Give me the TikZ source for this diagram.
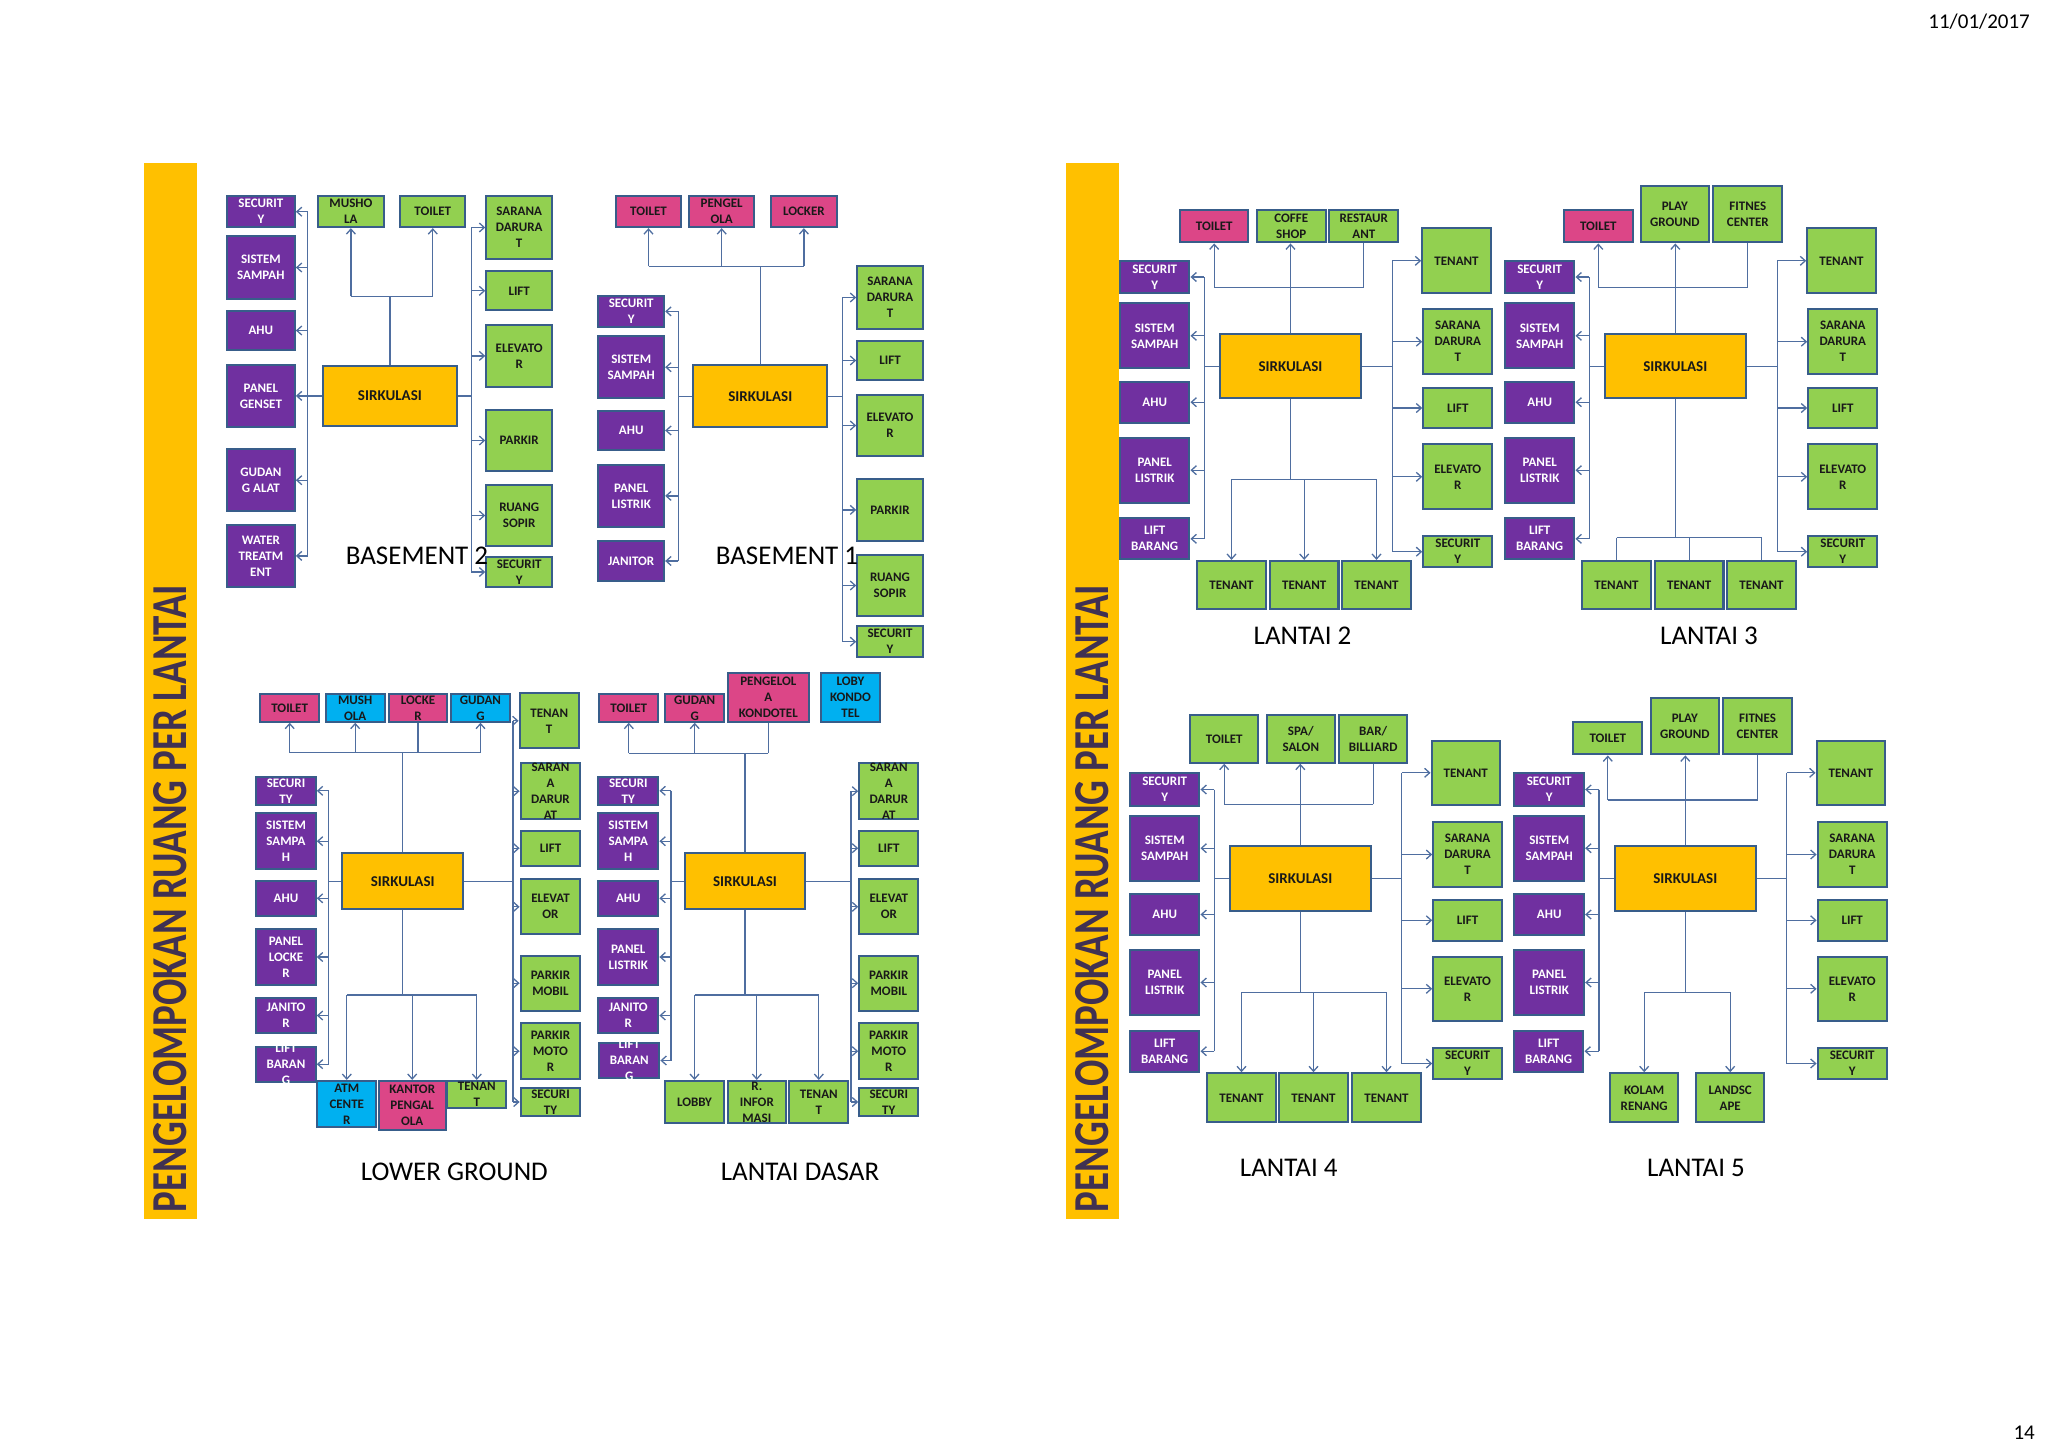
\documentclass[tikz,border=0pt]{standalone}
\usepackage{graphicx}
\usepackage{fontspec}
\setmainfont{Carlito}
\usetikzlibrary{calc, positioning, arrows.meta}
\definecolor{boxpurple}{RGB}{112,48,160}
\definecolor{boxgreen}{RGB}{146,208,80}
\definecolor{boxpink}{RGB}{220,70,135}
\definecolor{boxcyan}{RGB}{0,176,240}
\definecolor{boxyellow}{RGB}{255,192,0}
\definecolor{boxedge}{RGB}{56,93,138}
\definecolor{linkblue}{RGB}{79,110,160}
\definecolor{titleink}{RGB}{64,49,82}

\tikzset{
  room/.style={draw=boxedge, line width=2.2pt, inner sep=0pt},
  pbox/.style={room, fill=boxpurple},
  gbox/.style={room, fill=boxgreen},
  kbox/.style={room, fill=boxpink},
  cbox/.style={room, fill=boxcyan},
  ybox/.style={room, fill=boxyellow},
  rtext/.style={align=center, inner sep=0pt, font=\fontsize{13}{16}\selectfont\bfseries},
  pboxtxt/.style={text=white},
  gboxtxt/.style={text=black!90},
  kboxtxt/.style={text=black!90},
  cboxtxt/.style={text=black!90},
  yboxtxt/.style={text=black!90, font=\fontsize{15}{18}\selectfont\bfseries},
  link/.style={draw=linkblue, line width=1.3pt},
  floor/.style={font=\fontsize{27}{32}\selectfont, anchor=base, inner sep=0pt},
}

% box with fixed size, text laid over it
\newcommand{\roombox}[7]{%
  \node[#2, minimum width=#5pt, minimum height=#6pt] (#1) at (#3,#4) {};
  \node[rtext, #2txt] (#1t) at (#1.center) {#7};}

\begin{document}
\begin{tikzpicture}[x=1pt, y=-1pt, >={Straight Barb[length=5pt,width=9pt]}]
\useasboundingbox (0,0) rectangle (2048,1448);

% side bars
\fill[boxyellow] (143.7,163.3) rectangle (197.2,1218.6);
\fill[boxyellow] (1065.8,163.3) rectangle (1119.4,1218.6);
\node[rotate=90, text=titleink, inner sep=0pt] (ttlL) at (170.5,898.5)
  {\resizebox{627pt}{33pt}{\bfseries PENGELOMPOKAN RUANG PER LANTAI}};
\node[rotate=90, text=titleink, inner sep=0pt] (ttlR) at (1092.3,898.5)
  {\resizebox{627pt}{33pt}{\bfseries PENGELOMPOKAN RUANG PER LANTAI}};
\node[anchor=base east, inner sep=0pt, font=\fontsize{21}{25}\selectfont] (date) at (2030,28) {11/01/2017};
\node[anchor=base east, inner sep=0pt, font=\fontsize{21}{25}\selectfont] (pgno) at (2035,1439) {14};

% ---------------- BASEMENT 2
\roombox{b2sec}{pbox}{260.9}{211.7}{67.7}{30.7}{SECURIT\\Y}
\roombox{b2sis}{pbox}{260.9}{267.5}{67.7}{62.4}{SISTEM\\SAMPAH}
\roombox{b2ahu}{pbox}{260.9}{330.5}{67.7}{39.6}{AHU}
\roombox{b2pan}{pbox}{260.9}{395.9}{67.7}{62.3}{PANEL\\GENSET}
\roombox{b2gud}{pbox}{260.9}{480.2}{67.7}{62.3}{GUDAN\\G ALAT}
\roombox{b2wat}{pbox}{260.9}{555.9}{67.7}{62.3}{WATER\\TREATM\\ENT}
\roombox{b2sirk}{ybox}{389.9}{396}{134.3}{60.6}{SIRKULASI}
\roombox{b2mus}{gbox}{350.9}{211.7}{65.7}{30.7}{MUSHO\\LA}
\roombox{b2toi}{gbox}{432.8}{211.7}{65}{30.7}{TOILET}
\roombox{b2sar}{gbox}{519.2}{227.5}{65.7}{62.4}{SARANA\\DARURA\\T}
\roombox{b2lif}{gbox}{519.2}{290.8}{65.7}{39}{LIFT}
\roombox{b2ele}{gbox}{519.2}{355.9}{65.7}{62.3}{ELEVATO\\R}
\roombox{b2par}{gbox}{519.2}{440.5}{65.7}{61.6}{PARKIR}
\roombox{b2rua}{gbox}{519.2}{515.5}{65.7}{61.6}{RUANG\\SOPIR}
\roombox{b2scr}{gbox}{519.2}{572}{65.7}{30}{SECURIT\\Y}
\coordinate (b2l) at (307.7,0);
\coordinate (b2r) at (471.3,0);
\coordinate (b2t) at (0,296.3);
\draw[link] (b2sirk.west) -- (b2l |- b2sirk.west);
\draw[link] (b2l |- b2sec.east) -- (b2l |- b2wat.east);
\foreach \n in {sec,sis,ahu,pan,gud,wat}
  \draw[link,->] (b2l |- b2\n.east) -- (b2\n.east);
\draw[link] (b2sirk.east) -- (b2r |- b2sirk.east);
\draw[link] (b2r |- b2sar.west) -- (b2r |- b2scr.west);
\foreach \n in {sar,lif,ele,par,rua,scr}
  \draw[link,->] (b2r |- b2\n.west) -- (b2\n.west);
\draw[link] (b2sirk.north) -- (b2sirk.north |- b2t);
\draw[link] (b2mus.south |- b2t) -- (b2toi.south |- b2t);
\foreach \n in {mus,toi}
  \draw[link,->] (b2\n.south |- b2t) -- (b2\n.south);
\node[floor] (b2name) at (417,564) {BASEMENT 2};

% ---------------- BASEMENT 1
\roombox{b1toi}{kbox}{648.5}{211.7}{65}{30.7}{TOILET}
\roombox{b1pen}{kbox}{721.7}{211.7}{65.3}{30.7}{PENGEL\\OLA}
\roombox{b1loc}{kbox}{803.9}{211.7}{65.7}{30.7}{LOCKER}
\roombox{b1sirk}{ybox}{760.3}{396.2}{134}{61.7}{SIRKULASI}
\roombox{b1sec}{pbox}{631.2}{311.4}{65.7}{31.3}{SECURIT\\Y}
\roombox{b1sis}{pbox}{631.2}{367.2}{65.7}{61.7}{SISTEM\\SAMPAH}
\roombox{b1ahu}{pbox}{631.2}{430.5}{65.7}{39.6}{AHU}
\roombox{b1pan}{pbox}{631.2}{495.9}{65.7}{62.3}{PANEL\\LISTRIK}
\roombox{b1jan}{pbox}{631.2}{561}{65.7}{39.4}{JANITOR}
\roombox{b1sar}{gbox}{890}{297.5}{65.4}{62.4}{SARANA\\DARURA\\T}
\roombox{b1lif}{gbox}{890}{360.5}{65.4}{38.4}{LIFT}
\roombox{b1ele}{gbox}{890}{425.5}{65.4}{61.6}{ELEVATO\\R}
\roombox{b1par}{gbox}{890}{509.9}{65.4}{61.7}{PARKIR}
\roombox{b1rua}{gbox}{890}{585.5}{65.4}{61.6}{RUANG\\SOPIR}
\roombox{b1scr}{gbox}{890}{641.7}{65.4}{30.7}{SECURIT\\Y}
\coordinate (b1l) at (678.3,0);
\coordinate (b1r) at (842.3,0);
\coordinate (b1t) at (0,266.3);
\draw[link] (b1sirk.west) -- (b1l |- b1sirk.west);
\draw[link] (b1l |- b1sec.east) -- (b1l |- b1jan.east);
\foreach \n in {sec,sis,ahu,pan,jan}
  \draw[link,->] (b1l |- b1\n.east) -- (b1\n.east);
\draw[link] (b1sirk.east) -- (b1r |- b1sirk.east);
\draw[link] (b1r |- b1sar.west) -- (b1r |- b1scr.west);
\foreach \n in {sar,lif,ele,par,rua,scr}
  \draw[link,->] (b1r |- b1\n.west) -- (b1\n.west);
\draw[link] (b1sirk.north) -- (b1sirk.north |- b1t);
\draw[link] (b1toi.south |- b1t) -- (b1loc.south |- b1t);
\foreach \n in {toi,pen,loc}
  \draw[link,->] (b1\n.south |- b1t) -- (b1\n.south);
\node[floor] (b1name) at (787,564) {BASEMENT 1};

% ---------------- LOWER GROUND
\roombox{lgtoi}{kbox}{289.7}{707.8}{58.7}{27.7}{TOILET}
\roombox{lgmus}{cbox}{355.2}{707.8}{59}{27.7}{MUSH\\OLA}
\roombox{lgloc}{kbox}{418}{707.8}{58.6}{27.7}{LOCKE\\R}
\roombox{lggud}{cbox}{480.5}{707.8}{58.4}{27.7}{GUDAN\\G}
\roombox{lgsirk}{ybox}{402.7}{881.2}{120.7}{55.7}{SIRKULASI}
\roombox{lgsec}{pbox}{286}{790.8}{59.4}{28.3}{SECURI\\TY}
\roombox{lgsis}{pbox}{286}{841.2}{59.4}{55.7}{SISTEM\\SAMPA\\H}
\roombox{lgahu}{pbox}{286}{898.3}{59.4}{34.7}{AHU}
\roombox{lgpan}{pbox}{286}{957}{59.4}{56}{PANEL\\LOCKE\\R}
\roombox{lgjan}{pbox}{286}{1015.5}{59.4}{35.6}{JANITO\\R}
\roombox{lglib}{pbox}{286}{1064.2}{59.4}{35}{LIFT\\BARAN\\G}
\roombox{lgten}{gbox}{549.2}{720.8}{59}{55}{TENAN\\T}
\roombox{lgsar}{gbox}{550.5}{791.2}{59.6}{55.7}{SARAN\\A\\DARUR\\AT}
\roombox{lglif}{gbox}{550.5}{848.2}{59.6}{35}{LIFT}
\roombox{lgele}{gbox}{550.5}{906.8}{59.6}{55}{ELEVAT\\OR}
\roombox{lgpmo}{gbox}{550.5}{983.2}{59.6}{55}{PARKIR\\MOBIL}
\roombox{lgpmt}{gbox}{550.5}{1051.2}{59.6}{55.7}{PARKIR\\MOTO\\R}
\roombox{lgscr}{gbox}{550.5}{1102}{59.6}{27.4}{SECURI\\TY}
\roombox{lgatm}{cbox}{346.8}{1104.2}{59}{46.3}{ATM\\CENTE\\R}
\roombox{lgkan}{kbox}{412.2}{1105.5}{67}{49}{KANTOR\\PENGAL\\OLA}
\roombox{lgtnb}{gbox}{476.8}{1094.7}{59}{27.3}{TENAN\\T}
\coordinate (lgl) at (328.7,0);
\coordinate (lgr) at (513,0);
\coordinate (lgt) at (0,752.7);
\coordinate (lgb) at (0,995);
\draw[link] (lgsirk.west) -- (lgl |- lgsirk.west);
\draw[link] (lgl |- lgsec.east) -- (lgl |- lglib.east);
\foreach \n in {sec,sis,ahu,pan,jan,lib}
  \draw[link,->] (lgl |- lg\n.east) -- (lg\n.east);
\draw[link] (lgsirk.east) -- (lgr |- lgsirk.east);
\draw[link] (lgr |- lgten.west) -- (lgr |- lgscr.west);
\foreach \n in {ten,sar,lif,ele,pmo,pmt,scr}
  \draw[link,->] (lgr |- lg\n.west) -- (lg\n.west);
\draw[link] (lgsirk.north) -- (lgsirk.north |- lgt);
\draw[link] (lgtoi.south |- lgt) -- (lggud.south |- lgt);
\foreach \n in {toi,mus,gud}
  \draw[link,->] (lg\n.south |- lgt) -- (lg\n.south);
\draw[link] (lgloc.south |- lgt) -- (lgloc.south);
\draw[link] (lgsirk.south) -- (lgsirk.south |- lgb);
\draw[link] (lgatm.north |- lgb) -- (lgtnb.north |- lgb);
\foreach \n in {atm,kan,tnb}
  \draw[link,->] (lg\n.north |- lgb) -- (lg\n.north);
\node[floor] (lgname) at (454.3,1180) {LOWER GROUND};

% ---------------- LANTAI DASAR
\roombox{ldtoi}{kbox}{628.8}{707.8}{59}{27.7}{TOILET}
\roombox{ldgud}{kbox}{694.7}{707.8}{59.3}{27.7}{GUDAN\\G}
\roombox{ldpen}{kbox}{768.3}{697.5}{81.3}{48.3}{PENGELOL\\A\\KONDOTEL}
\roombox{ldlob}{cbox}{850.5}{697.5}{59}{48.3}{LOBY\\KONDO\\TEL}
\roombox{ldsirk}{ybox}{745}{881.2}{120}{55.7}{SIRKULASI}
\roombox{ldsec}{pbox}{628.3}{790.8}{60}{28.3}{SECURI\\TY}
\roombox{ldsis}{pbox}{628.3}{841.2}{60}{55.7}{SISTEM\\SAMPA\\H}
\roombox{ldahu}{pbox}{628.3}{898.3}{60}{34.7}{AHU}
\roombox{ldpan}{pbox}{628.3}{957}{60}{56}{PANEL\\LISTRIK}
\roombox{ldjan}{pbox}{628.3}{1015.5}{60}{35.6}{JANITO\\R}
\roombox{ldlib}{pbox}{629.3}{1060.5}{60}{35.6}{LIFT\\BARAN\\G}
\roombox{ldsar}{gbox}{888.8}{791.2}{59}{55.7}{SARAN\\A\\DARUR\\AT}
\roombox{ldlif}{gbox}{888.8}{848.2}{59}{35}{LIFT}
\roombox{ldele}{gbox}{888.8}{906.8}{59}{55}{ELEVAT\\OR}
\roombox{ldpmo}{gbox}{888.8}{983.2}{59}{55}{PARKIR\\MOBIL}
\roombox{ldpmt}{gbox}{888.8}{1051.2}{59}{55.7}{PARKIR\\MOTO\\R}
\roombox{ldscr}{gbox}{888.8}{1102}{59}{27.4}{SECURI\\TY}
\roombox{ldlby}{gbox}{694.5}{1102.2}{59}{42.3}{LOBBY}
\roombox{ldrin}{gbox}{756.8}{1102.2}{58.3}{42.3}{R.\\INFOR\\MASI}
\roombox{ldtnb}{gbox}{818.8}{1102.2}{59}{42.3}{TENAN\\T}
\coordinate (ldl) at (671,0);
\coordinate (ldr) at (851,0);
\coordinate (ldt) at (0,753.3);
\coordinate (ldb) at (0,995);
\draw[link] (ldsirk.west) -- (ldl |- ldsirk.west);
\draw[link] (ldl |- ldsec.east) -- (ldl |- ldlib.east);
\foreach \n in {sec,sis,ahu,pan,jan,lib}
  \draw[link,->] (ldl |- ld\n.east) -- (ld\n.east);
\draw[link] (ldsirk.east) -- (ldr |- ldsirk.east);
\draw[link] (ldr |- ldsar.west) -- (ldr |- ldscr.west);
\foreach \n in {sar,lif,ele,pmo,pmt,scr}
  \draw[link,->] (ldr |- ld\n.west) -- (ld\n.west);
\draw[link] (ldsirk.north) -- (ldsirk.north |- ldt);
\draw[link] (ldtoi.south |- ldt) -- (ldpen.south |- ldt);
\foreach \n in {toi,gud}
  \draw[link,->] (ld\n.south |- ldt) -- (ld\n.south);
\draw[link] (ldpen.south |- ldt) -- (ldpen.south);
\draw[link] (ldsirk.south) -- (ldsirk.south |- ldb);
\draw[link] (ldlby.north |- ldb) -- (ldtnb.north |- ldb);
\foreach \n in {lby,rin,tnb}
  \draw[link,->] (ld\n.north |- ldb) -- (ld\n.north);
\node[floor] (ldname) at (800,1180) {LANTAI DASAR};

% ---------------- LANTAI 2
\roombox{l2toi}{kbox}{1214.2}{226.2}{68.3}{32.3}{TOILET}
\roombox{l2cof}{gbox}{1291.2}{226.2}{69}{32.3}{COFFE\\SHOP}
\roombox{l2res}{gbox}{1363.8}{226.2}{69}{32.3}{RESTAUR\\ANT}
\roombox{l2sirk}{ybox}{1290.5}{366.2}{141}{64.3}{SIRKULASI}
\roombox{l2sec}{pbox}{1154.7}{277}{69.3}{32.6}{SECURIT\\Y}
\roombox{l2sis}{pbox}{1154.7}{335.8}{69.3}{65}{SISTEM\\SAMPAH}
\roombox{l2ahu}{pbox}{1154.7}{402.2}{69.3}{41}{AHU}
\roombox{l2pan}{pbox}{1154.7}{470.2}{69.3}{65}{PANEL\\LISTRIK}
\roombox{l2lib}{pbox}{1154.7}{538.8}{69.3}{41}{LIFT\\BARANG}
\roombox{l2ten}{gbox}{1456.5}{260.8}{68.4}{65}{TENANT}
\roombox{l2sar}{gbox}{1457.8}{341.7}{69}{64.7}{SARANA\\DARURA\\T}
\roombox{l2lif}{gbox}{1457.8}{408}{69}{40.6}{LIFT}
\roombox{l2ele}{gbox}{1457.8}{476.8}{69}{65}{ELEVATO\\R}
\roombox{l2scr}{gbox}{1457.8}{551.7}{69}{31.3}{SECURIT\\Y}
\roombox{l2ta}{gbox}{1231.5}{585}{68.4}{48}{TENANT}
\roombox{l2tb}{gbox}{1304.2}{585}{68.4}{48}{TENANT}
\roombox{l2tc}{gbox}{1376.5}{585}{68.4}{48}{TENANT}
\coordinate (l2l) at (1204.3,0);
\coordinate (l2r) at (1392.3,0);
\coordinate (l2t) at (0,287.7);
\coordinate (l2b) at (0,479.3);
\draw[link] (l2sirk.west) -- (l2l |- l2sirk.west);
\draw[link] (l2l |- l2sec.east) -- (l2l |- l2lib.east);
\foreach \n in {sec,sis,ahu,pan,lib}
  \draw[link,->] (l2l |- l2\n.east) -- (l2\n.east);
\draw[link] (l2sirk.east) -- (l2r |- l2sirk.east);
\draw[link] (l2r |- l2ten.west) -- (l2r |- l2scr.west);
\foreach \n in {ten,sar,lif,ele,scr}
  \draw[link,->] (l2r |- l2\n.west) -- (l2\n.west);
\draw[link,->] (l2sirk.north) -- (l2sirk.north |- l2cof.south);
\draw[link] (l2toi.south |- l2t) -- (l2res.south |- l2t);
\draw[link,->] (l2toi.south |- l2t) -- (l2toi.south);
\draw[link] (l2res.south |- l2t) -- (l2res.south);
\draw[link] (l2sirk.south) -- (l2sirk.south |- l2b);
\draw[link] (l2ta.north |- l2b) -- (l2tc.north |- l2b);
\foreach \n in {ta,tb,tc}
  \draw[link,->] (l2\n.north |- l2b) -- (l2\n.north);
\node[floor] (l2name) at (1302.5,644.3) {LANTAI 2};

% ---------------- LANTAI 3
\roombox{l3toi}{kbox}{1598.3}{226.2}{68.7}{32.3}{TOILET}
\roombox{l3pla}{gbox}{1674.8}{214.2}{68.3}{56.3}{PLAY\\GROUND}
\roombox{l3fit}{gbox}{1747.8}{214.2}{69}{56.3}{FITNES\\CENTER}
\roombox{l3sirk}{ybox}{1675.3}{366.2}{140.7}{64.3}{SIRKULASI}
\roombox{l3sec}{pbox}{1539.7}{277}{69.3}{32.6}{SECURIT\\Y}
\roombox{l3sis}{pbox}{1539.7}{335.8}{69.3}{65}{SISTEM\\SAMPAH}
\roombox{l3ahu}{pbox}{1539.7}{402.2}{69.3}{41}{AHU}
\roombox{l3pan}{pbox}{1539.7}{470.2}{69.3}{65}{PANEL\\LISTRIK}
\roombox{l3lib}{pbox}{1539.7}{538.8}{69.3}{41}{LIFT\\BARANG}
\roombox{l3ten}{gbox}{1841.5}{260.8}{68.4}{65}{TENANT}
\roombox{l3sar}{gbox}{1842.8}{341.7}{69}{64.7}{SARANA\\DARURA\\T}
\roombox{l3lif}{gbox}{1842.8}{408}{69}{40.6}{LIFT}
\roombox{l3ele}{gbox}{1842.8}{476.8}{69}{65}{ELEVATO\\R}
\roombox{l3scr}{gbox}{1842.8}{551.7}{69}{31.3}{SECURIT\\Y}
\roombox{l3ta}{gbox}{1616.5}{585}{68.4}{48}{TENANT}
\roombox{l3tb}{gbox}{1689.2}{585}{68.4}{48}{TENANT}
\roombox{l3tc}{gbox}{1761.5}{585}{68.4}{48}{TENANT}
\coordinate (l3l) at (1589.3,0);
\coordinate (l3r) at (1777.3,0);
\coordinate (l3t) at (0,287.7);
\coordinate (l3b) at (0,537.7);
\draw[link] (l3sirk.west) -- (l3l |- l3sirk.west);
\draw[link] (l3l |- l3sec.east) -- (l3l |- l3lib.east);
\foreach \n in {sec,sis,ahu,pan,lib}
  \draw[link,->] (l3l |- l3\n.east) -- (l3\n.east);
\draw[link] (l3sirk.east) -- (l3r |- l3sirk.east);
\draw[link] (l3r |- l3ten.west) -- (l3r |- l3scr.west);
\foreach \n in {ten,sar,lif,ele,scr}
  \draw[link,->] (l3r |- l3\n.west) -- (l3\n.west);
\draw[link,->] (l3sirk.north) -- (l3sirk.north |- l3pla.south);
\draw[link] (l3toi.south |- l3t) -- (l3fit.south |- l3t);
\draw[link,->] (l3toi.south |- l3t) -- (l3toi.south);
\draw[link] (l3fit.south |- l3t) -- (l3fit.south);
\draw[link] (l3sirk.south) -- (l3sirk.south |- l3b);
\draw[link] (l3ta.north |- l3b) -- (l3tc.north |- l3b);
\foreach \n in {ta,tb,tc}
  \draw[link] (l3\n.north |- l3b) -- (l3\n.north);
\node[floor] (l3name) at (1709,644.3) {LANTAI 3};

% ---------------- LANTAI 4
\roombox{l4toi}{gbox}{1224.2}{738.8}{68.3}{47.7}{TOILET}
\roombox{l4spa}{gbox}{1300.8}{738.8}{68.3}{47.7}{SPA/\\SALON}
\roombox{l4bar}{gbox}{1373.2}{738.8}{68.3}{47.7}{BAR/\\BILLIARD}
\roombox{l4sirk}{ybox}{1300.3}{878.3}{140.7}{64.7}{SIRKULASI}
\roombox{l4sec}{pbox}{1164.7}{789.5}{69.3}{32.4}{SECURIT\\Y}
\roombox{l4sis}{pbox}{1164.7}{848.2}{69.3}{65}{SISTEM\\SAMPAH}
\roombox{l4ahu}{pbox}{1164.7}{914.5}{69.3}{41}{AHU}
\roombox{l4pan}{pbox}{1164.7}{982.5}{69.3}{65}{PANEL\\LISTRIK}
\roombox{l4lib}{pbox}{1164.7}{1051.2}{69.3}{41}{LIFT\\BARANG}
\roombox{l4ten}{gbox}{1465.8}{772.8}{68.3}{64.3}{TENANT}
\roombox{l4sar}{gbox}{1467.5}{854.5}{68.4}{64.4}{SARANA\\DARURA\\T}
\roombox{l4lif}{gbox}{1467.5}{920.3}{68.4}{40.7}{LIFT}
\roombox{l4ele}{gbox}{1467.5}{988.8}{68.4}{64.3}{ELEVATO\\R}
\roombox{l4scr}{gbox}{1467.5}{1063.5}{68.4}{31.6}{SECURIT\\Y}
\roombox{l4ta}{gbox}{1241.5}{1097.8}{68.4}{49}{TENANT}
\roombox{l4tb}{gbox}{1313.5}{1097.8}{68.4}{49}{TENANT}
\roombox{l4tc}{gbox}{1386.5}{1097.8}{68.4}{49}{TENANT}
\coordinate (l4l) at (1214.3,0);
\coordinate (l4r) at (1401.7,0);
\coordinate (l4t) at (0,804.3);
\coordinate (l4b) at (0,992.3);
\draw[link] (l4sirk.west) -- (l4l |- l4sirk.west);
\draw[link] (l4l |- l4sec.east) -- (l4l |- l4lib.east);
\foreach \n in {sec,sis,ahu,pan,lib}
  \draw[link,->] (l4l |- l4\n.east) -- (l4\n.east);
\draw[link] (l4sirk.east) -- (l4r |- l4sirk.east);
\draw[link] (l4r |- l4ten.west) -- (l4r |- l4scr.west);
\foreach \n in {ten,sar,lif,ele,scr}
  \draw[link,->] (l4r |- l4\n.west) -- (l4\n.west);
\draw[link,->] (l4sirk.north) -- (l4sirk.north |- l4spa.south);
\draw[link] (l4toi.south |- l4t) -- (l4bar.south |- l4t);
\draw[link,->] (l4toi.south |- l4t) -- (l4toi.south);
\draw[link] (l4bar.south |- l4t) -- (l4bar.south);
\draw[link] (l4sirk.south) -- (l4sirk.south |- l4b);
\draw[link] (l4ta.north |- l4b) -- (l4tc.north |- l4b);
\foreach \n in {ta,tb,tc}
  \draw[link,->] (l4\n.north |- l4b) -- (l4\n.north);
\node[floor] (l4name) at (1288.8,1176.7) {LANTAI 4};

% ---------------- LANTAI 5
\roombox{l5toi}{gbox}{1607.8}{738.3}{69}{32}{TOILET}
\roombox{l5pla}{gbox}{1684.8}{726.3}{68.3}{56}{PLAY\\GROUND}
\roombox{l5fit}{gbox}{1757.5}{726.3}{68.4}{56}{FITNES\\CENTER}
\roombox{l5sirk}{ybox}{1685.3}{878.3}{140.7}{64.7}{SIRKULASI}
\roombox{l5sec}{pbox}{1549.2}{789.5}{69.7}{32.4}{SECURIT\\Y}
\roombox{l5sis}{pbox}{1549.2}{848.2}{69.7}{65}{SISTEM\\SAMPAH}
\roombox{l5ahu}{pbox}{1549.2}{914.5}{69.7}{41}{AHU}
\roombox{l5pan}{pbox}{1549.2}{982.5}{69.7}{65}{PANEL\\LISTRIK}
\roombox{l5lib}{pbox}{1548.7}{1051.2}{69.3}{41}{LIFT\\BARANG}
\roombox{l5ten}{gbox}{1850.8}{772.8}{68.3}{64.3}{TENANT}
\roombox{l5sar}{gbox}{1852.2}{854.5}{69}{64.4}{SARANA\\DARURA\\T}
\roombox{l5lif}{gbox}{1852.2}{920.3}{69}{40.7}{LIFT}
\roombox{l5ele}{gbox}{1852.2}{988.8}{69}{64.3}{ELEVATO\\R}
\roombox{l5scr}{gbox}{1852.2}{1063.5}{69}{31.6}{SECURIT\\Y}
\roombox{l5kol}{gbox}{1644.2}{1097.8}{68.3}{49}{KOLAM\\RENANG}
\roombox{l5lan}{gbox}{1730.2}{1097.8}{68.3}{49}{LANDSC\\APE}
\coordinate (l5l) at (1599,0);
\coordinate (l5r) at (1786.7,0);
\coordinate (l5t) at (0,800);
\coordinate (l5b) at (0,992.3);
\draw[link] (l5sirk.west) -- (l5l |- l5sirk.west);
\draw[link] (l5l |- l5sec.east) -- (l5l |- l5lib.east);
\foreach \n in {sec,sis,ahu,pan,lib}
  \draw[link,->] (l5l |- l5\n.east) -- (l5\n.east);
\draw[link] (l5sirk.east) -- (l5r |- l5sirk.east);
\draw[link] (l5r |- l5ten.west) -- (l5r |- l5scr.west);
\foreach \n in {ten,sar,lif,ele,scr}
  \draw[link,->] (l5r |- l5\n.west) -- (l5\n.west);
\draw[link,->] (l5sirk.north) -- (l5sirk.north |- l5pla.south);
\draw[link] (l5toi.south |- l5t) -- (l5fit.south |- l5t);
\draw[link,->] (l5toi.south |- l5t) -- (l5toi.south);
\draw[link] (l5fit.south |- l5t) -- (l5fit.south);
\draw[link] (l5sirk.south) -- (l5sirk.south |- l5b);
\draw[link] (l5kol.north |- l5b) -- (l5lan.north |- l5b);
\foreach \n in {kol,lan}
  \draw[link,->] (l5\n.north |- l5b) -- (l5\n.north);
\node[floor] (l5name) at (1696,1176.7) {LANTAI 5};
\end{tikzpicture}
\end{document}
